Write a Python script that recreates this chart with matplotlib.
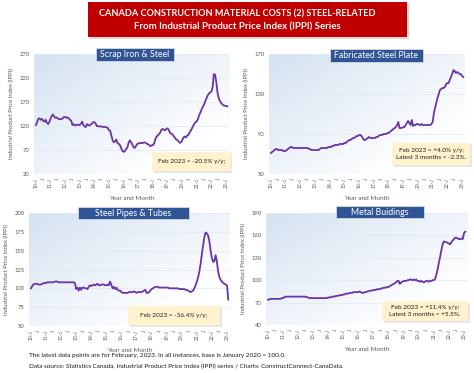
import numpy as np
import pandas as pd
import matplotlib
matplotlib.use("Agg")
import matplotlib.pyplot as plt
from matplotlib.colors import LinearSegmentedColormap
from matplotlib.patches import FancyBboxPatch

plt.rcParams['font.family'] = ['Lato', 'DejaVu Sans']

# monthly index values, Jan 2010 .. Feb 2023 (base Jan 2020 = 100)
scrap = [
    122, 128, 135, 136, 133, 135, 131, 129, 133, 127, 124, 128,
    135, 141, 144, 140, 137, 138, 136, 134, 135, 134, 136, 139,
    139, 137, 138, 136, 133, 131, 122, 124, 121, 122, 123, 122,
    122, 125, 129, 122, 119, 118, 124, 122, 121, 123, 125, 128,
    128, 125, 120, 120, 119, 119, 119, 118, 118, 118, 117, 116,
    111, 110, 100, 90, 86, 88, 92, 84, 83, 80, 74, 68,
    66, 68, 72, 75, 84, 90, 87, 82, 76, 74, 78, 82,
    84, 84, 85, 84, 85, 86, 85, 83, 82, 80, 78, 80,
    80, 84, 92, 98, 100, 103, 106, 112, 114, 112, 111, 114,
    115, 112, 106, 104, 103, 99, 96, 92, 91, 88, 85, 86,
    90, 96, 98, 96, 100, 101, 106, 110, 115, 120, 125, 128,
    130, 135, 143, 148, 155, 160, 165, 172, 178, 184, 188, 190,
    192, 202, 228, 227, 212, 190, 178, 172, 168, 165, 163, 162,
    162, 161,
]
plate = [
    71, 72, 73, 74, 75, 75, 74, 74, 74, 74, 73, 73,
    73, 74, 75, 76, 77, 77, 76, 76, 76, 76, 76, 76,
    76, 76, 76, 76, 76, 76, 76, 75, 75, 74, 74, 74,
    74, 74, 74, 74, 75, 76, 76, 76, 76, 76, 76, 77,
    77, 77, 78, 78, 79, 79, 79, 79, 80, 80, 80, 80,
    81, 81, 82, 83, 84, 84, 85, 86, 86, 87, 88, 88,
    89, 89, 88, 86, 84, 84, 85, 86, 87, 86, 86, 86,
    86, 86, 87, 87, 88, 89, 89, 89, 90, 90, 90, 91,
    91, 92, 93, 94, 95, 96, 97, 99, 102, 96, 96, 96,
    97, 97, 99, 101, 103, 101, 99, 104, 98, 99, 99, 100,
    100, 99, 99, 100, 99, 99, 99, 99, 99, 99, 99, 100,
    102, 111, 116, 121, 126, 130, 134, 135, 136, 136, 137, 140,
    141, 141, 144, 147, 150, 154, 153, 151, 152, 151, 150, 150,
    148, 147,
]
pipes = [
    100, 103, 105, 106, 106, 106, 105, 105, 105, 106, 107, 107,
    107, 108, 108, 108, 108, 108, 108, 109, 109, 109, 108, 108,
    108, 108, 108, 108, 108, 108, 108, 108, 108, 108, 108, 107,
    99, 101, 97, 101, 98, 101, 101, 100, 100, 99, 102, 104,
    103, 104, 105, 104, 105, 106, 104, 104, 105, 105, 105, 104,
    104, 105, 104, 109, 105, 100, 102, 99, 101, 98, 97, 97,
    95, 94, 94, 94, 94, 94, 95, 95, 95, 95, 96, 95,
    94, 95, 95, 95, 95, 96, 97, 98, 94, 94, 95, 97,
    99, 100, 101, 102, 102, 102, 101, 101, 101, 101, 101, 101,
    101, 101, 100, 100, 100, 100, 100, 100, 100, 100, 99, 99,
    99, 99, 99, 98, 98, 97, 96, 95, 96, 97, 100, 104,
    109, 115, 122, 132, 145, 157, 168, 174, 173, 170, 162, 150,
    140, 135, 136, 144, 136, 122, 115, 111, 109, 107, 106, 105,
    104, 85,
]
buildings = [
    74, 74, 75, 75, 75, 75, 75, 75, 75, 75, 75, 76,
    76, 77, 78, 78, 78, 78, 78, 78, 78, 78, 78, 78,
    78, 78, 78, 78, 78, 78, 78, 77, 77, 76, 76, 76,
    76, 76, 76, 76, 76, 76, 76, 76, 76, 76, 76, 76,
    77, 77, 77, 78, 78, 78, 79, 79, 79, 80, 80, 80,
    81, 81, 82, 82, 82, 83, 83, 83, 84, 84, 84, 84,
    84, 85, 84, 83, 83, 84, 84, 85, 85, 86, 86, 86,
    87, 87, 87, 88, 88, 88, 89, 89, 90, 90, 90, 91,
    91, 92, 93, 94, 95, 96, 97, 99, 99, 95, 97, 98,
    99, 99, 99, 100, 100, 101, 101, 100, 101, 100, 101, 99,
    99, 98, 99, 98, 97, 98, 99, 99, 98, 99, 99, 100,
    100, 102, 107, 114, 123, 131, 140, 148, 152, 151, 151, 150,
    149, 148, 151, 153, 155, 157, 157, 156, 155, 155, 156, 155,
    163, 165,
]

titles = ["Scrap Iron & Steel", "Fabricated Steel Plate", "Steel Pipes & Tubes", "Metal Buidings"]
notes = ["Feb 2023 = -20.5% y/y;",
         "Feb 2023 = +4.0% y/y;\nLatest 3 months = -2.3%.",
         "Feb 2023 = -36.4% y/y;",
         "Feb 2023 = +11.4% y/y;\nLatest 3 months = +5.5%."]
yticks = [[20, 70, 120, 170, 220, 270],
          [50, 90, 130, 170],
          [50, 75, 100, 125, 150, 175, 200],
          [40, 70, 100, 130, 160, 190]]
series = [scrap, plate, pipes, buildings]

dates = pd.date_range("2010-01-01", periods=len(scrap), freq="MS")
tick_dates = pd.date_range("2010-01-01", "2023-01-01", freq="6MS")
tick_labels = [f"{d.year % 100}-J" if d.month == 1 else "J" for d in tick_dates]

W, H = 474, 373
fig = plt.figure(figsize=(W / 100, H / 100), dpi=100)

def fx(px):
    return px / W

def fy(py):
    return 1 - py / H

# axes rectangles in pixels: left, top, right, bottom
rects = [(34, 54, 229, 174), (269, 54, 465, 174), (29, 213, 230, 326), (266, 213, 467, 325)]
title_boxes = [(96, 48, 174, 61), (330, 49, 423, 62), (78, 207, 189, 219), (336, 206, 424, 218)]
note_boxes = [(152, 152, 231, 171), (392, 143, 470, 165), (128, 306, 220, 325), (382, 301, 468, 321)]

grad_cmap = LinearSegmentedColormap.from_list("bg", ["#d5e2f2", "#ffffff"])
gx, gy = np.meshgrid(np.linspace(0, 1, 100), np.linspace(0, 1, 100))
grad = np.clip((gx + gy) / 1.6, 0, 1)

grey = "#595959"
for i in range(4):
    l, t, r, b = rects[i]
    ax = fig.add_axes([fx(l), fy(b), fx(r - l), (b - t) / H])
    ax.imshow(grad, extent=[0, 1, 0, 1], transform=ax.transAxes, cmap=grad_cmap,
              aspect="auto", zorder=0, origin="upper")
    ax.plot(dates, series[i], color="#6a35a5", lw=1.3, zorder=3)
    ax.set_ylim(yticks[i][0], yticks[i][-1])
    ax.set_yticks(yticks[i])
    ax.set_xlim(pd.Timestamp("2009-11-15"), pd.Timestamp("2023-03-15"))
    ax.set_xticks(tick_dates)
    ax.set_xticklabels(tick_labels, rotation=90, fontsize=3.6, color=grey)
    ax.tick_params(axis="y", labelsize=4.2, colors=grey, length=0, pad=3)
    ax.tick_params(axis="x", length=0, pad=3)
    ax.grid(axis="y", color="#e3e8ef", lw=0.5, zorder=1)
    for s in ax.spines.values():
        s.set_visible(False)
    ax.set_ylabel("Industrial Product Price Index (IPPI)", fontsize=4.2, color=grey, labelpad=4)
    ax.set_xlabel("Year and Month", fontsize=4.6, color=grey, labelpad=6)

    # panel title box
    l2, t2, r2, b2 = title_boxes[i]
    fig.patches.append(FancyBboxPatch((fx(l2), fy(b2)), fx(r2 - l2), (b2 - t2) / H,
                                      boxstyle="square,pad=0", transform=fig.transFigure,
                                      facecolor="#2f5597", edgecolor="#d9d9d9", lw=0.6, zorder=5))
    fig.text(fx((l2 + r2) / 2), fy((t2 + b2) / 2), titles[i], color="white", fontsize=6.3,
             ha="center", va="center", zorder=6)

    # note box
    l3, t3, r3, b3 = note_boxes[i]
    fig.patches.append(FancyBboxPatch((fx(l3 + 1.5), fy(b3 + 1.5)), fx(r3 - l3), (b3 - t3) / H,
                                      boxstyle="square,pad=0", transform=fig.transFigure,
                                      facecolor="#e6e6e6", edgecolor="none", zorder=4))
    fig.patches.append(FancyBboxPatch((fx(l3), fy(b3)), fx(r3 - l3), (b3 - t3) / H,
                                      boxstyle="square,pad=0", transform=fig.transFigure,
                                      facecolor="#fff2cc", edgecolor="none", zorder=5))
    fig.text(fx((l3 + r3) / 2), fy((t3 + b3) / 2), notes[i], color="#1f1f1f", fontsize=4.6,
             ha="center", va="center", linespacing=1.5, zorder=6)

# main title
fig.patches.append(FancyBboxPatch((fx(89.5), fy(38.5)), fx(407 - 88), 35 / H,
                                  boxstyle="square,pad=0", transform=fig.transFigure,
                                  facecolor="#d9d9d9", edgecolor="none", zorder=4))
fig.patches.append(FancyBboxPatch((fx(88), fy(37)), fx(407 - 88), 35 / H,
                                  boxstyle="square,pad=0", transform=fig.transFigure,
                                  facecolor="#c00000", edgecolor="none", zorder=5))
fig.text(0.5, fy(13.5), "CANADA CONSTRUCTION MATERIAL COSTS (2) STEEL-RELATED",
         color="white", fontsize=6.6, weight="bold", ha="center", va="center", zorder=6)
fig.text(0.5, fy(27), "From Industrial Product Price Index (IPPI) Series",
         color="white", fontsize=6.9, weight="bold", ha="center", va="center", zorder=6)

fig.text(fx(29), fy(355), "The latest data points are for February, 2023. In all instances, base is January 2020 = 100.0.",
         fontsize=4.6, color="#1a1a1a", va="center")
fig.text(fx(29), fy(366), "Data source: Statistics Canada, Industrial Product Price Index (IPPI) series / Charts: ConstructConnect-CanaData.",
         fontsize=4.6, color="#1a1a1a", va="center")

fig.savefig("out.png", dpi=100)
